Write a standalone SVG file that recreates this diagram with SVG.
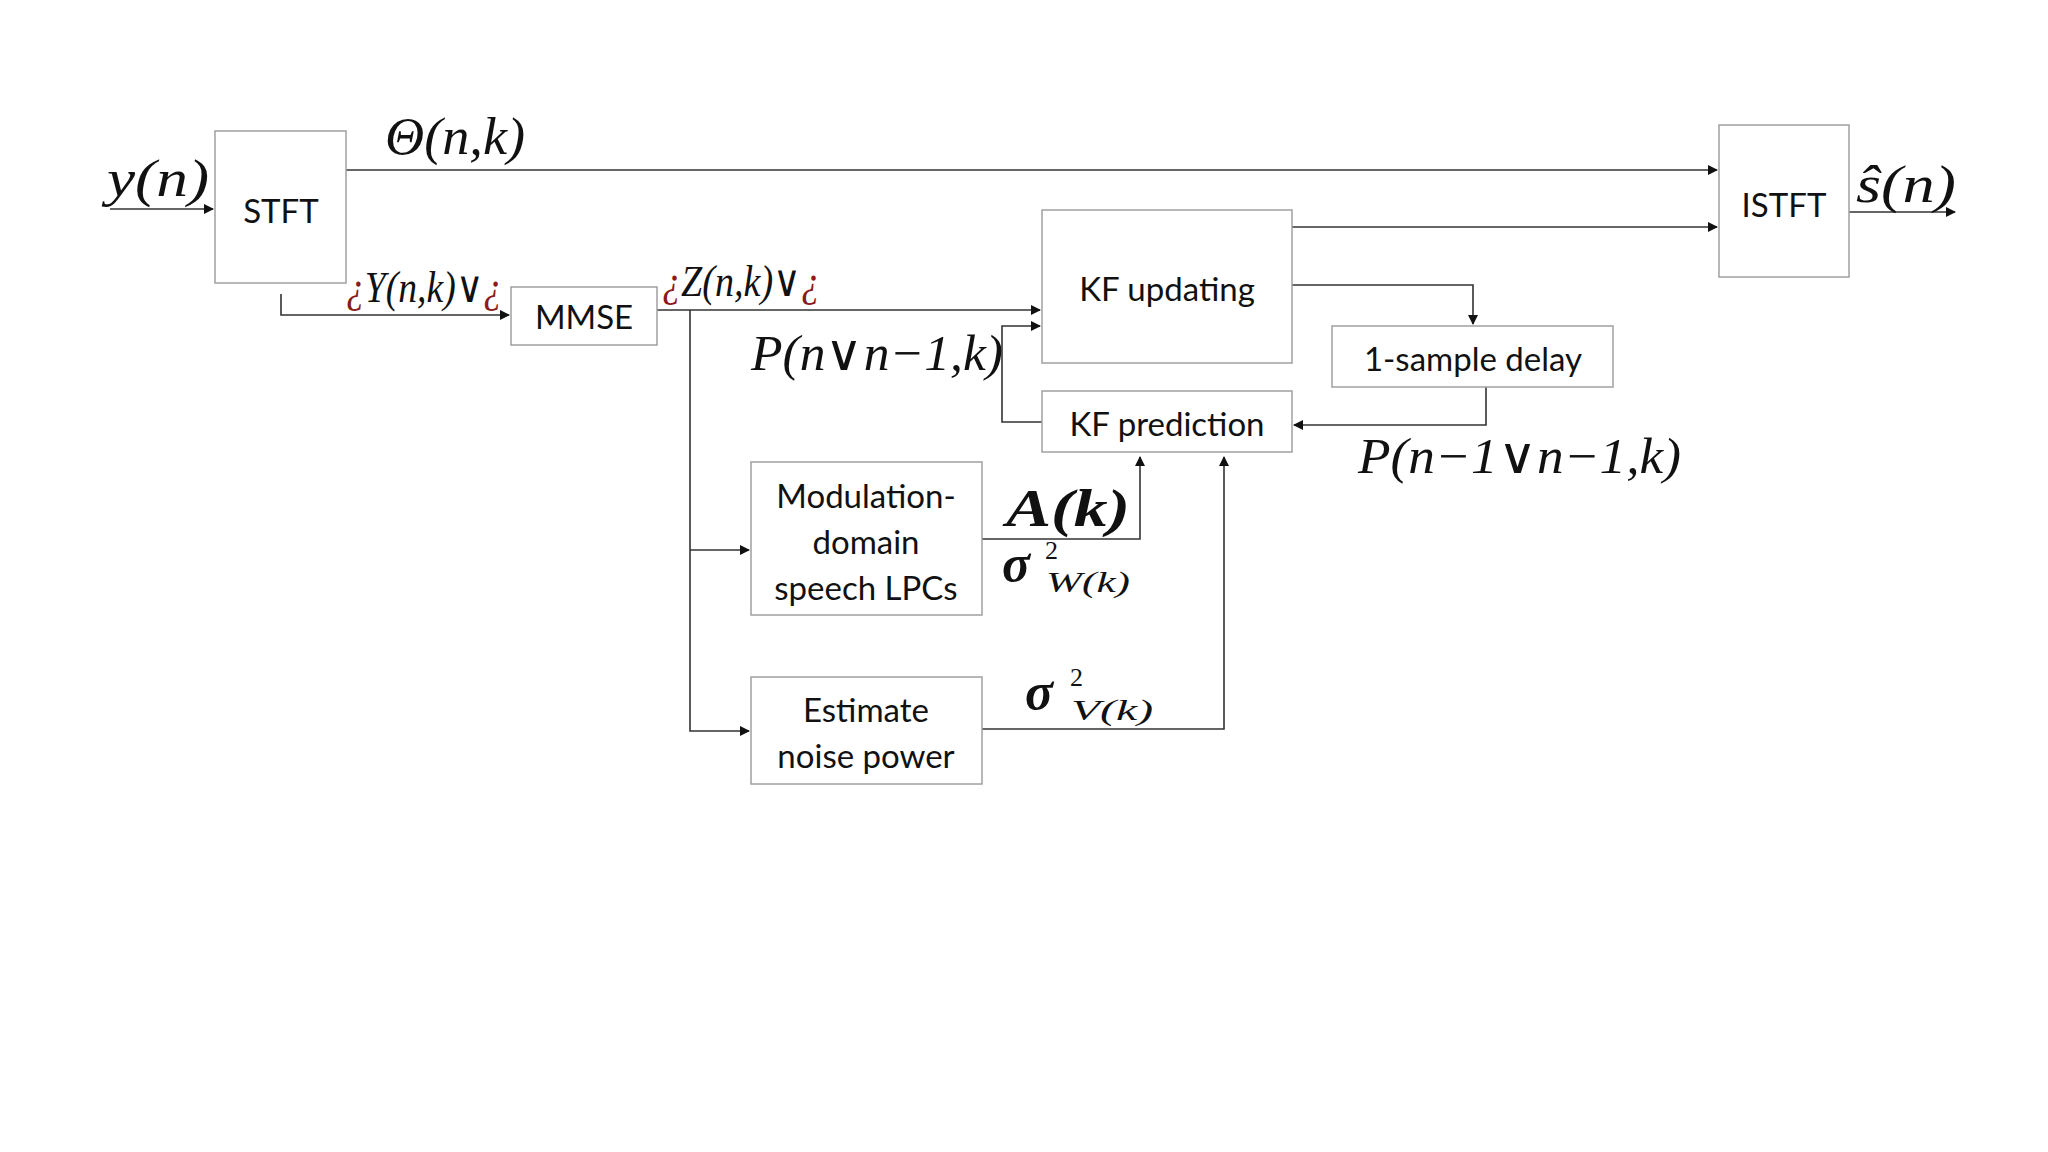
<svg xmlns="http://www.w3.org/2000/svg" width="2048" height="1152" viewBox="0 0 2048 1152">
<style>
.box{fill:#fff;stroke:#a0a0a0;stroke-width:1.5}
.t{font-family:Lato,"Open Sans",sans-serif;font-size:33px;fill:#111;text-anchor:middle}
.m{font-family:"Liberation Serif","DejaVu Serif",serif;font-style:italic;fill:#111}
.r{fill:#8b1a1a}
.v{font-family:"DejaVu Sans",sans-serif;font-style:normal;font-weight:200}
.c{fill:none;stroke:#333;stroke-width:1.6}
</style>
<defs>
<marker id="a" markerWidth="10" markerHeight="10" refX="9" refY="5" orient="auto" markerUnits="userSpaceOnUse">
<path d="M0,0 L10,5 L0,10 Z" fill="#111"/>
</marker>
</defs>
<rect width="2048" height="1152" fill="#fff"/>
<g id="connectors">
<path class="c" d="M110,209 H213" marker-end="url(#a)"/>
<path class="c" d="M346,170 H1717" marker-end="url(#a)"/>
<path class="c" d="M1849,212 H1955" marker-end="url(#a)"/>
<path class="c" d="M1292,227 H1717" marker-end="url(#a)"/>
<path class="c" d="M1292,285 H1473 V324" marker-end="url(#a)"/>
<path class="c" d="M1486,387 V425 H1294" marker-end="url(#a)"/>
<path class="c" d="M1042,422 H1002 V326 H1040" marker-end="url(#a)"/>
<path class="c" d="M281,294 V315 H509" marker-end="url(#a)"/>
<path class="c" d="M657,310 H1040" marker-end="url(#a)"/>
<path class="c" d="M690,310 V731 H749" marker-end="url(#a)"/>
<path class="c" d="M690,550 H749" marker-end="url(#a)"/>
<path class="c" d="M982,539 H1140 V457" marker-end="url(#a)"/>
<path class="c" d="M982,729 H1224 V457" marker-end="url(#a)"/>
</g>
<g id="stft"><rect class="box" x="215" y="131" width="131" height="152"/><text class="t" x="281" y="223">STFT</text></g>
<g id="istft"><rect class="box" x="1719" y="125" width="130" height="152"/><text class="t" x="1784" y="217">ISTFT</text></g>
<g id="mmse"><rect class="box" x="511" y="287" width="146" height="58"/><text class="t" x="584" y="329">MMSE</text></g>
<g id="kfupd"><rect class="box" x="1042" y="210" width="250" height="153"/><text class="t" x="1167" y="301">KF updating</text></g>
<g id="delay"><rect class="box" x="1332" y="326" width="281" height="61"/><text class="t" x="1473" y="371">1-sample delay</text></g>
<g id="kfpred"><rect class="box" x="1042" y="391" width="250" height="61"/><text class="t" x="1167" y="436">KF prediction</text></g>
<g id="mod"><rect class="box" x="751" y="462" width="231" height="153"/><text class="t" x="866" y="508">Modulation-</text><text class="t" x="866" y="554">domain</text><text class="t" x="866" y="600">speech LPCs</text></g>
<g id="noise"><rect class="box" x="751" y="677" width="231" height="107"/><text class="t" x="866" y="722">Estimate</text><text class="t" x="866" y="768">noise power</text></g>
<g id="labels">
<text class="m" x="107" y="196" font-size="52" textLength="102" lengthAdjust="spacingAndGlyphs">y(n)</text>
<text class="m" x="385" y="154" font-size="52" textLength="140" lengthAdjust="spacingAndGlyphs">Θ(n,k)</text>
<text class="m" x="1856" y="202" font-size="52" textLength="100" lengthAdjust="spacingAndGlyphs">ŝ(n)</text>
<text class="m" x="346" y="302" font-size="44" textLength="156" lengthAdjust="spacingAndGlyphs"><tspan class="r">¿</tspan>Y(n,k)<tspan class="v">∨</tspan><tspan class="r">¿</tspan></text>
<text class="m" x="662" y="296" font-size="44" textLength="158" lengthAdjust="spacingAndGlyphs"><tspan class="r">¿</tspan>Z(n,k)<tspan class="v">∨</tspan><tspan class="r">¿</tspan></text>
<text class="m" x="751" y="370" font-size="50" textLength="252" lengthAdjust="spacingAndGlyphs">P(n<tspan class="v">∨</tspan>n−1,k)</text>
<text class="m" x="1358" y="473" font-size="50" textLength="323" lengthAdjust="spacingAndGlyphs">P(n−1<tspan class="v">∨</tspan>n−1,k)</text>
<text class="m" x="1006" y="526" font-size="52" font-weight="bold" textLength="124" lengthAdjust="spacingAndGlyphs">A(k)</text>
<text class="m" x="1002" y="581" font-size="52" font-weight="bold">σ</text>
<text class="m" x="1045" y="559" font-size="26" style="font-style:normal">2</text>
<text class="m" x="1046" y="592" font-size="30" textLength="84" lengthAdjust="spacingAndGlyphs">W(k)</text>
<text class="m" x="1025" y="709" font-size="52" font-weight="bold">σ</text>
<text class="m" x="1070" y="686" font-size="26" style="font-style:normal">2</text>
<text class="m" x="1071" y="720" font-size="30" textLength="82" lengthAdjust="spacingAndGlyphs">V(k)</text>
</g>
</svg>
